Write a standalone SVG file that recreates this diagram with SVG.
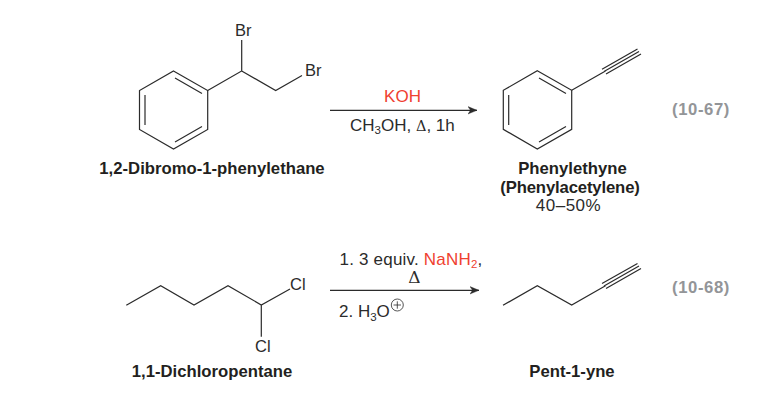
<svg xmlns="http://www.w3.org/2000/svg" width="784" height="406" viewBox="0 0 784 406">
<defs>
<style>
text{font-family:"Liberation Sans",Arial,sans-serif;font-size:17px;fill:#2b2b2b}
.a{font-size:16.500px}
.b{font-weight:bold;font-size:16.700px;fill:#231f20;text-anchor:middle}
.e{font-weight:bold;font-size:16.700px;letter-spacing:.6px;fill:#939598;text-anchor:middle}
.r{fill:#ef4130}
.d{font-family:"DejaVu Serif",serif}
.l{fill:none;stroke:#2b2b2b;stroke-width:1.2;stroke-linejoin:miter}
</style>
<marker id="h" markerUnits="userSpaceOnUse" markerWidth="12" markerHeight="10" refX="9.500" refY="4" orient="auto"><path d="M0.500 0.300L9.500 4L0.500 7.700L3 4Z" fill="#2b2b2b" stroke="#2b2b2b" stroke-width=".4"/></marker>
</defs>
<rect width="784" height="406" fill="#fff"/>
<g id="connectors">
<path class="l" d="M330 110.300H477" marker-end="url(#h)"/>
<path class="l" d="M330 290.300H479" marker-end="url(#h)"/>
</g>
<g id="dibromo">
<path class="l" d="M173.500 71L207.700 90.500V129.500L173.500 149L139.500 129.500V90.500ZM145 95V125M175 78L202 93.500M175 142L202 126.500"/>
<path class="l" d="M207.700 90.500L241.700 71V40M241.700 71L275.700 90.500L302 75.500"/>
<text x="235" y="36" class="a">Br</text>
<text x="305" y="76" class="a">Br</text>
<text x="212" y="174" class="b">1,2-Dibromo-1-phenylethane</text>
</g>
<g id="phenylethyne">
<path class="l" d="M537.300 70.700L571.700 90.300V129.300L537.300 149L503.300 129.300V90.300ZM508.700 95V125M539 78L566 93.500M539 142L566 126.500"/>
<path class="l" d="M571.700 90.300L605.500 71M602 69.300L637.500 49M604 71.500L639 51.500M606 74L641 54"/>
<text x="572.500" y="174" class="b">Phenylethyne</text>
<text x="570" y="193.300" class="b" style="letter-spacing:-.15px">(Phenylacetylene)</text>
<text x="568.500" y="211" text-anchor="middle" style="letter-spacing:.5px">40–50%</text>
</g>
<g id="cond1">
<text x="402.500" y="101.500" text-anchor="middle" class="r" style="fill:#ef4130">KOH</text>
<text x="350" y="130.700">CH<tspan dy="3.500" font-size="11.500">3</tspan><tspan dy="-3.500">OH, </tspan><tspan class="d" font-size="14.500">Δ</tspan>, 1h</text>
</g>
<g id="eq1"><text x="701" y="115" class="e">(10-67)</text></g>
<g id="dichloropentane">
<path class="l" d="M126.300 305.300L160.700 285.700L194 305L228 285.700L261.300 305L290 289M261.300 305V336.700"/>
<text x="290" y="290" class="a">Cl</text>
<text x="255" y="352" class="a">Cl</text>
<text x="212" y="376.700" class="b">1,1-Dichloropentane</text>
</g>
<g id="pentyne">
<path class="l" d="M503 305.300L537.300 285.700L571.700 305L605.500 285.700M602 283.500L637.500 263.500M604 286L639 266M606 288.500L641 268.500"/>
<text x="572" y="377" class="b">Pent-1-yne</text>
</g>
<g id="cond2">
<text x="339.500" y="264.500" style="letter-spacing:.2px">1. 3 equiv. <tspan style="fill:#ef4130">NaNH</tspan><tspan dy="3.500" font-size="11.500" style="fill:#ef4130">2</tspan><tspan dy="-3.500">,</tspan></text>
<text x="414.500" y="282.700" text-anchor="middle" class="d" font-size="14.500">Δ</text>
<text x="339" y="317.300">2. H<tspan dy="3.500" font-size="11.500">3</tspan><tspan dy="-3.500">O</tspan></text>
<circle cx="397.300" cy="305" r="6" fill="none" stroke="#2b2b2b" stroke-width=".8"/>
<path d="M393.500 305H401M397.300 301.300V308.700" stroke="#2b2b2b" stroke-width=".8"/>
</g>
<g id="eq2"><text x="701" y="293" class="e">(10-68)</text></g>
</svg>
